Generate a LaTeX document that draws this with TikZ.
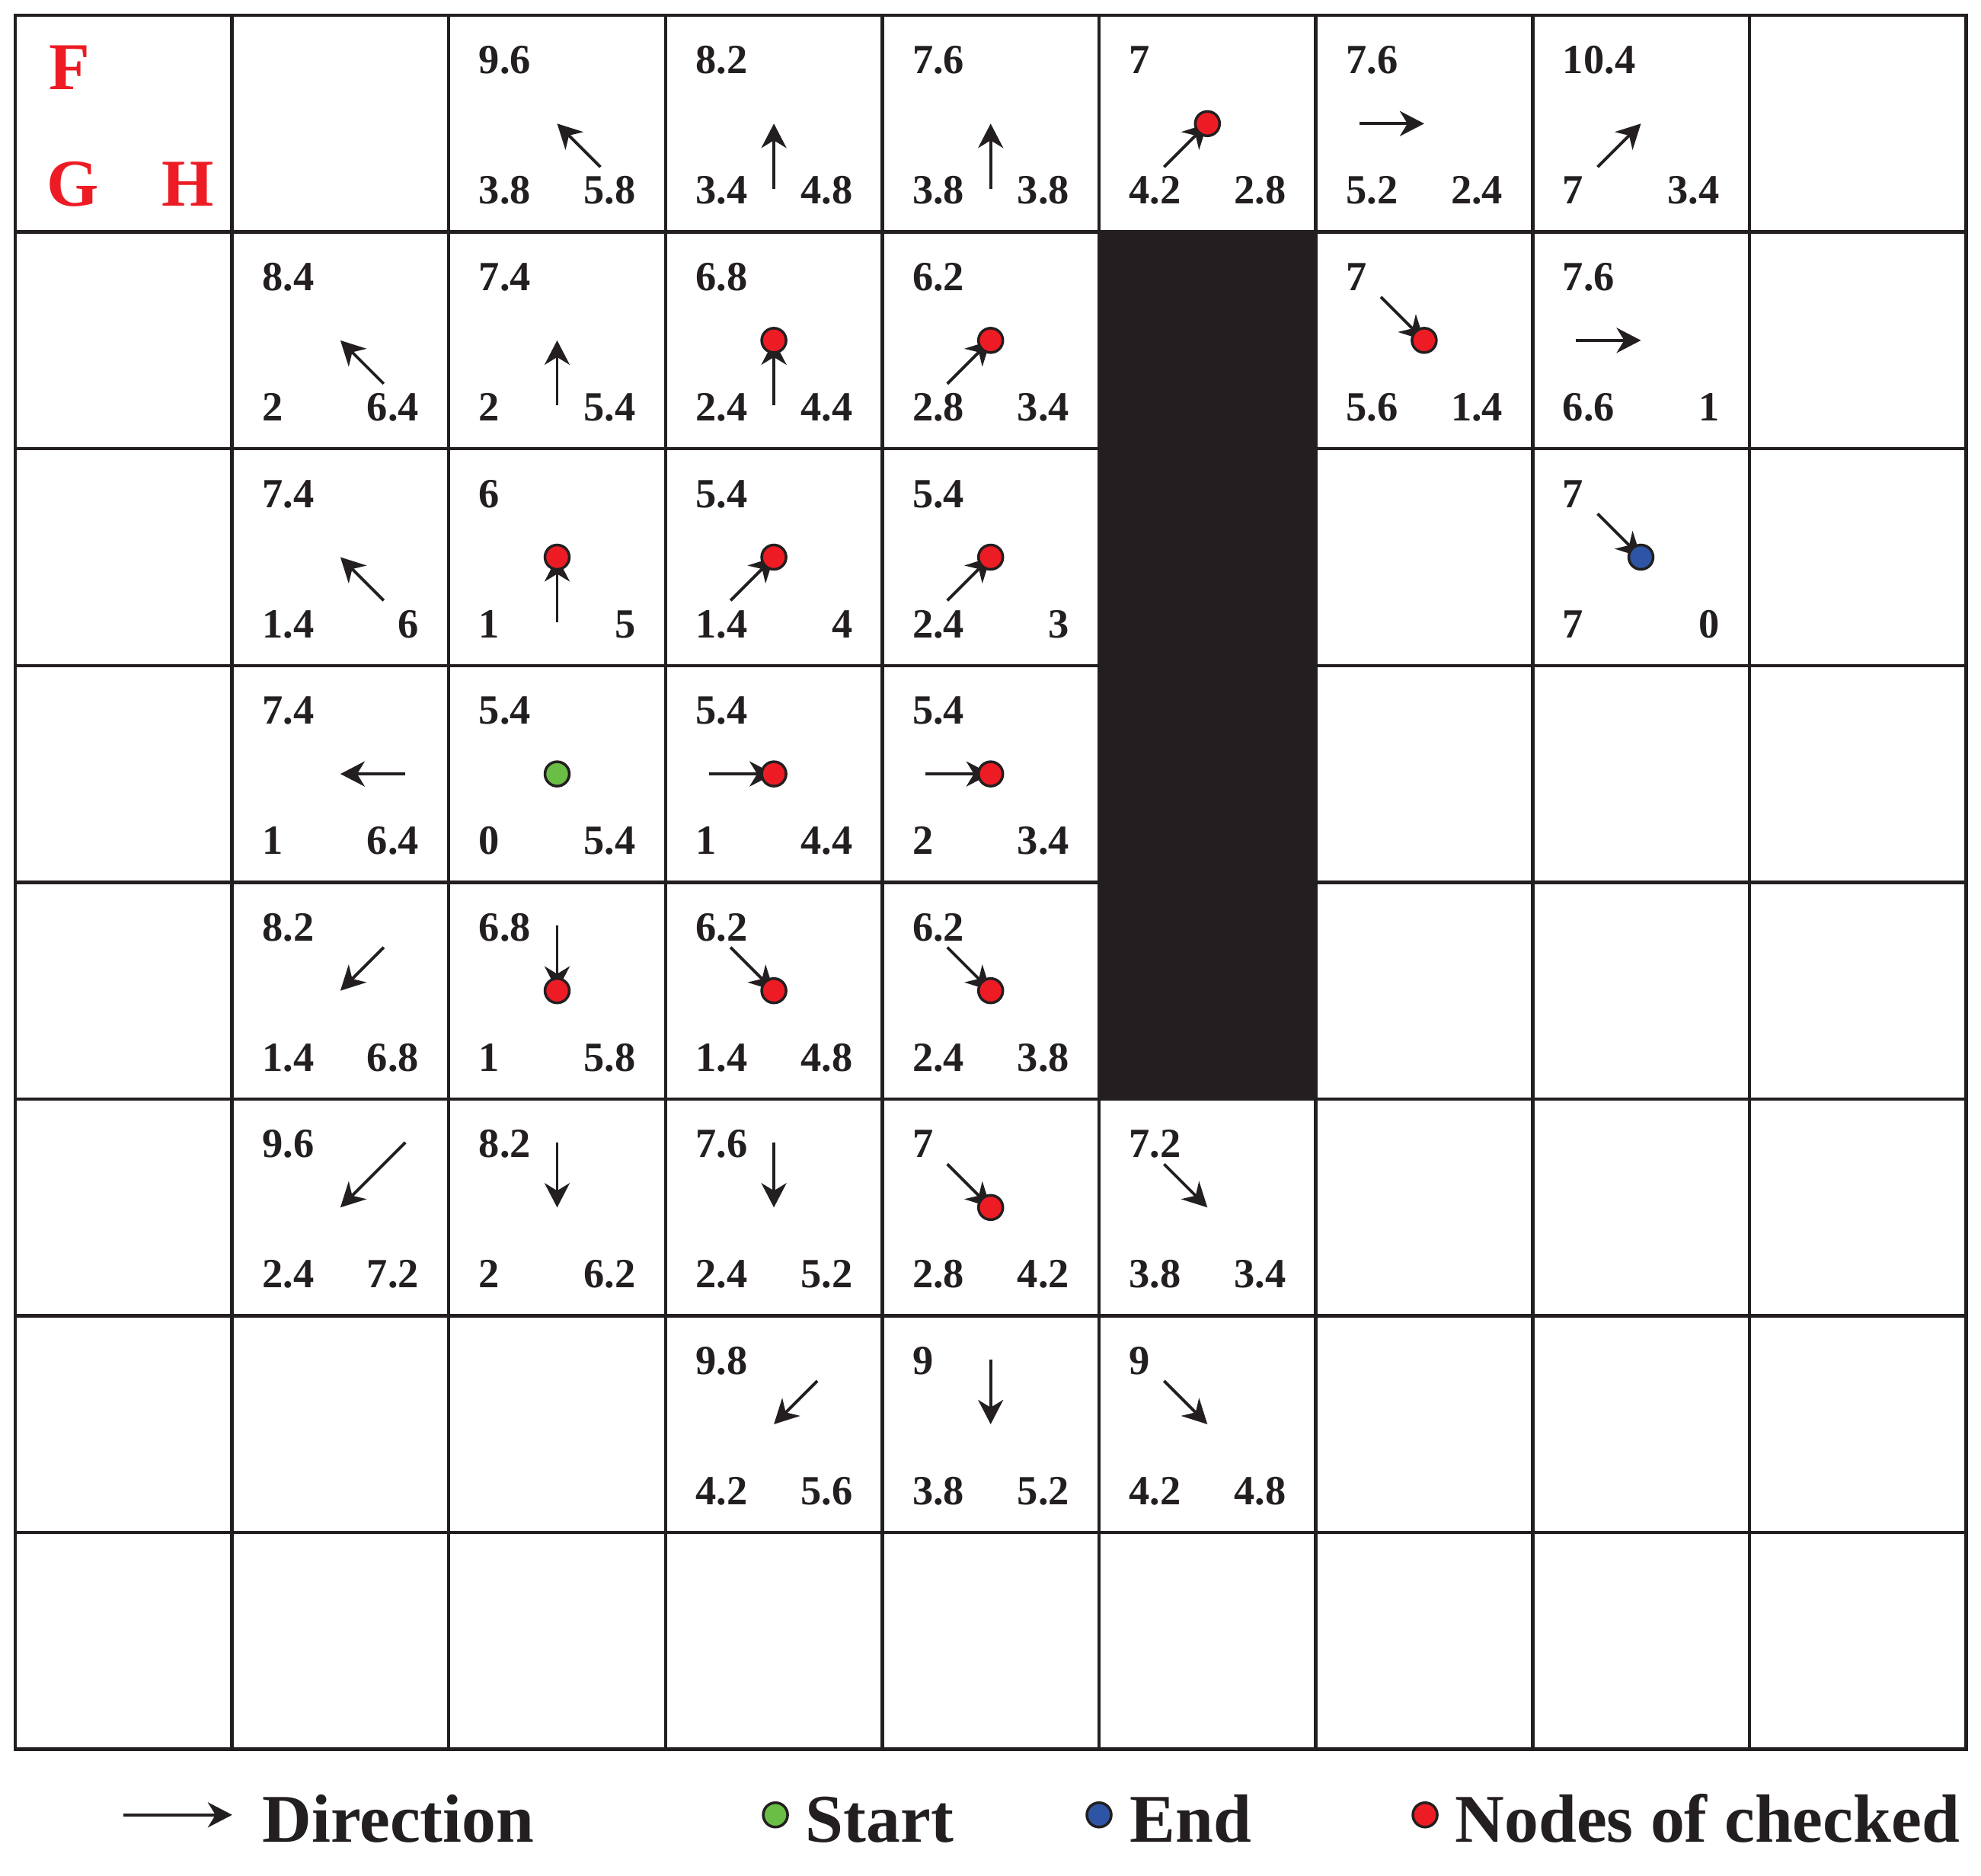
\documentclass[tikz,border=0pt]{standalone}
\usepackage{fontspec}
\setmainfont{Liberation Serif}
\usetikzlibrary{arrows.meta}

\definecolor{inkblack}{HTML}{231F20}
\definecolor{checkred}{HTML}{ED1C24}
\definecolor{startgreen}{HTML}{6ABD45}
\definecolor{endblue}{HTML}{2E55A5}

\tikzset{
    dirarrow/.style={draw=inkblack, line width=1.1pt, -{Stealth[length=3.2mm,width=3.3mm,inset=1mm]}},
    nodedot/.style={circle, draw=inkblack, line width=1pt, minimum size=3.2mm, inner sep=0pt},
    cost/.style={font=\bfseries\fontsize{15.5}{18}\selectfont, text=inkblack, inner sep=0pt},
    keyletter/.style={font=\bfseries\fontsize{25}{30}\selectfont, text=checkred, inner sep=0pt, anchor=base west},
    legendtext/.style={font=\bfseries\fontsize{25.5}{30}\selectfont, text=inkblack, inner sep=0pt, anchor=base west}
}

\begin{document}
\begin{tikzpicture}
    % Define dimensions
    \def\cols{9}
    \def\rows{8}
    \def\spacing{2.846}
    \useasboundingbox (-0.2,0.2) rectangle (25.81,-24.43);
    % Blocked cells
    \fill[inkblack] (5*\spacing,-1*\spacing) rectangle (6*\spacing,-5*\spacing);
    % Grid lines
    \foreach \x in {1,2,...,8}
        \draw[inkblack,line width=1.3pt] (\x*\spacing,0) -- (\x*\spacing,-\rows*\spacing);
    \foreach \y in {1,2,...,7}
        \draw[inkblack,line width=1.3pt] (0,-\y*\spacing) -- (\cols*\spacing,-\y*\spacing);
    \draw[inkblack,line width=1.4pt] (0,0) rectangle (\cols*\spacing,-\rows*\spacing);
    % Cell centres
    \foreach \c in {0,1,...,8}
        \foreach \r in {0,1,...,7}
            \coordinate (m-\c-\r) at ({(\c+0.5)*\spacing},{-(\r+0.5)*\spacing});
    % Direction arrows (tail offset from the centre)
    \foreach \c/\r/\dx/\dy in {2/0/0.2/0.2, 3/0/0/0.3, 4/0/0/0.3, 5/0/-0.2/0.2, 6/0/-0.3/0, 7/0/-0.2/0.2,
                               1/1/0.2/0.2, 2/1/0/0.3, 3/1/0/0.3, 4/1/-0.2/0.2, 6/1/-0.2/-0.2, 7/1/-0.3/0,
                               1/2/0.2/0.2, 2/2/0/0.3, 3/2/-0.2/0.2, 4/2/-0.2/0.2, 7/2/-0.2/-0.2,
                               1/3/0.3/0, 3/3/-0.3/0, 4/3/-0.3/0,
                               1/4/0.2/-0.2, 2/4/0/-0.3, 3/4/-0.2/-0.2, 4/4/-0.2/-0.2,
                               1/5/0.3/-0.3, 2/5/0/-0.3, 3/5/0/-0.3, 4/5/-0.2/-0.2, 5/5/-0.2/-0.2,
                               3/6/0.2/-0.2, 4/6/0/-0.3, 5/6/-0.2/-0.2}{
        \coordinate (t-\c-\r) at ({(\c+0.5+(\dx))*\spacing},{-(\r+0.5+(\dy))*\spacing});
        \draw[dirarrow] (t-\c-\r) -- (m-\c-\r);
    }
    % Checked nodes, start and end
    \foreach \c/\r in {5/0, 3/1, 4/1, 6/1, 2/2, 3/2, 4/2, 3/3, 4/3, 2/4, 3/4, 4/4, 4/5}
        \node[nodedot,fill=checkred] (d-\c-\r) at (m-\c-\r) {};
    \node[nodedot,fill=startgreen] (start) at (m-2-3) {};
    \node[nodedot,fill=endblue] (goal) at (m-7-2) {};
    % F, G and H values
    \foreach \c/\r/\f/\g/\h in {2/0/9.6/3.8/5.8, 3/0/8.2/3.4/4.8, 4/0/7.6/3.8/3.8, 5/0/7/4.2/2.8, 6/0/7.6/5.2/2.4, 7/0/10.4/7/3.4,
                                1/1/8.4/2/6.4, 2/1/7.4/2/5.4, 3/1/6.8/2.4/4.4, 4/1/6.2/2.8/3.4, 6/1/7/5.6/1.4, 7/1/7.6/6.6/1,
                                1/2/7.4/1.4/6, 2/2/6/1/5, 3/2/5.4/1.4/4, 4/2/5.4/2.4/3, 7/2/7/7/0,
                                1/3/7.4/1/6.4, 2/3/5.4/0/5.4, 3/3/5.4/1/4.4, 4/3/5.4/2/3.4,
                                1/4/8.2/1.4/6.8, 2/4/6.8/1/5.8, 3/4/6.2/1.4/4.8, 4/4/6.2/2.4/3.8,
                                1/5/9.6/2.4/7.2, 2/5/8.2/2/6.2, 3/5/7.6/2.4/5.2, 4/5/7/2.8/4.2, 5/5/7.2/3.8/3.4,
                                3/6/9.8/4.2/5.6, 4/6/9/3.8/5.2, 5/6/9/4.2/4.8}{
        \node[cost,anchor=base west] (f-\c-\r) at ({(\c+0.137)*\spacing},{-(\r+0.27)*\spacing}) {\f};
        \node[cost,anchor=base west] (g-\c-\r) at ({(\c+0.137)*\spacing},{-(\r+0.871)*\spacing}) {\g};
        \node[cost,anchor=base east] (h-\c-\r) at ({(\c+0.865)*\spacing},{-(\r+0.871)*\spacing}) {\h};
    }
    % Key in the corner cell
    \node[keyletter] (key-f) at (0.155*\spacing,-0.341*\spacing) {F};
    \node[keyletter] (key-g) at (0.144*\spacing,-0.879*\spacing) {G};
    \node[keyletter] (key-h) at (0.675*\spacing,-0.879*\spacing) {H};
    % Legend
    \coordinate (leg-tail) at (0.499*\spacing,-8.302*\spacing);
    \coordinate (leg-tip) at (1.001*\spacing,-8.302*\spacing);
    \draw[dirarrow] (leg-tail) -- (leg-tip);
    \node[legendtext] (leg-dir) at (1.138*\spacing,-8.429*\spacing) {Direction};
    \node[nodedot,fill=startgreen] (leg-startdot) at (3.507*\spacing,-8.302*\spacing) {};
    \node[legendtext] (leg-start) at (3.644*\spacing,-8.429*\spacing) {Start};
    \node[nodedot,fill=endblue] (leg-enddot) at (5.0*\spacing,-8.302*\spacing) {};
    \node[legendtext] (leg-end) at (5.141*\spacing,-8.429*\spacing) {End};
    \node[nodedot,fill=checkred] (leg-checkdot) at (6.504*\spacing,-8.302*\spacing) {};
    \node[legendtext] (leg-check) at (6.641*\spacing,-8.429*\spacing) {Nodes of checked};
\end{tikzpicture}
\end{document}
